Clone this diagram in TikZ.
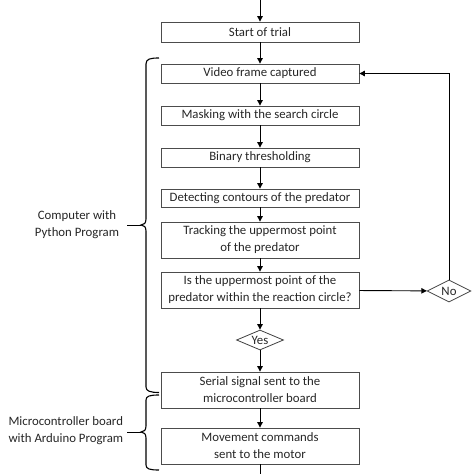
\documentclass[tikz,border=0pt]{standalone}
\usepackage{fontspec}
\setmainfont{Carlito}
\usetikzlibrary{shapes.geometric,arrows.meta}
\begin{document}
\begin{tikzpicture}[x=1pt,y=-1pt,
  txt/.style={font=\fontsize{12.8}{17}\selectfont,text=black!85},
  box/.style={txt,draw=black!70,line width=0.8pt,rectangle,minimum width=198pt,inner sep=1pt,align=center},
  dia/.style={txt,draw=black!75,line width=0.8pt,diamond,aspect=2.4,inner sep=0pt},
  arr/.style={-{Triangle[length=5.5pt,width=5.5pt]},line width=0.9pt},
  ln/.style={line width=0.9pt},
  brc/.style={line width=1.1pt},
  lbl/.style={txt,align=center}]
\useasboundingbox (0,0) rectangle (474,474);
\node[box,minimum height=20pt] (start) at (260,32) {Start of trial};
\node[box,minimum height=19pt] (video) at (260,73.5) {Video frame captured};
\node[box,minimum height=19pt] (mask) at (260,115.5) {Masking with the search circle};
\node[box,minimum height=19pt] (bin) at (260,157.5) {Binary thresholding};
\node[box,minimum height=18pt] (det) at (260,198) {Detecting contours of the predator};
\node[box,minimum height=36pt] (track) at (260,240) {Tracking the uppermost point\\of the predator};
\node[box,minimum height=36pt] (is) at (260,290) {Is the uppermost point of the\\predator within the reaction circle?};
\node[dia,minimum width=47pt,minimum height=20pt] (yes) at (260,340) {Yes};
\node[dia,minimum width=44pt,minimum height=22pt] (no) at (449,291) {No};
\node[box,minimum height=36pt] (serial) at (260,390) {Serial signal sent to the\\microcontroller board};
\node[box,minimum height=36pt] (move) at (260,446) {Movement commands\\sent to the motor};
\coordinate (top) at (260,0);
\coordinate (bot) at (260,474);
\coordinate (corner) at (449,73.5);
\draw[arr] (top) -- (start);
\draw[arr] (start) -- (video);
\draw[arr] (video) -- (mask);
\draw[arr] (mask) -- (bin);
\draw[arr] (bin) -- (det);
\draw[arr] (det) -- (track);
\draw[arr] (track) -- (is);
\draw[arr] (is) -- (yes);
\draw[arr] (yes) -- (serial);
\draw[arr] (serial) -- (move);
\draw[ln] (move) -- (bot);
\draw[arr] (is) -- (no);
\draw[arr] (no.north) -- (corner) -- (video.east);
% braces
\coordinate (t1) at (141,225);
\coordinate (t2) at (141,432);
\draw[brc] (159,58) .. controls (150,58) and (146,59) .. (146,64) -- (146,219)
  .. controls (146,223) and (144,225) .. (t1)
  .. controls (144,225) and (146,227) .. (146,231) -- (146,387)
  .. controls (146,391) and (150,392.5) .. (159,392.5);
\draw[brc] (159,395) .. controls (150,395) and (146,396) .. (146,400) -- (146,426)
  .. controls (146,430) and (144,432) .. (t2)
  .. controls (144,432) and (146,434) .. (146,438) -- (146,465)
  .. controls (146,469) and (150,470) .. (159,470);
\coordinate (l1) at (127,225);
\coordinate (l2) at (127,432);
\draw[ln] (l1) -- (t1);
\draw[ln] (l2) -- (t2);
\node[lbl] (cp) at (77,224.5) {Computer with\\Python Program};
\node[lbl,align=left,anchor=west] (mc) at (5,431) {Microcontroller board\\with Arduino Program};
\end{tikzpicture}
\end{document}
